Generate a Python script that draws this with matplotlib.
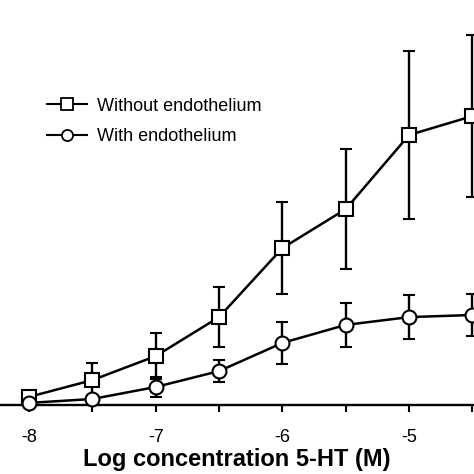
import numpy as np
import matplotlib.pyplot as plt
from matplotlib.lines import Line2D

plt.rcParams['font.family'] = ['Liberation Sans', 'DejaVu Sans']

# log concentration of 5-HT (M)
log_conc = [-8, -7.5, -7, -6.5, -6, -5.5, -5, -4.5]

# contraction (arbitrary units)
without_endo = [2.7, 8.3, 16.3, 29.3, 52.3, 65.3, 90.0, 96.3]
without_err = [0.0, 5.7, 7.7, 10.0, 15.3, 20.0, 28.0, 27.0]
with_endo = [0.7, 2.0, 6.0, 11.3, 20.7, 26.7, 29.3, 30.0]
with_err = [0.0, 0.8, 3.3, 3.7, 7.0, 7.3, 7.3, 7.0]

fig = plt.figure(figsize=(4.74, 4.74), dpi=100)
ax = fig.add_axes([0, 1 - 405 / 474, 1, 405 / 474])

ax.errorbar(log_conc, without_endo, yerr=without_err, color='black', lw=1.8,
            marker='s', markersize=10, mfc='white', mec='black', mew=1.5,
            capsize=4, capthick=1.7, elinewidth=1.7, clip_on=False, zorder=3)
ax.errorbar(log_conc, with_endo, yerr=with_err, color='black', lw=1.8,
            marker='o', markersize=10, mfc='white', mec='black', mew=1.5,
            capsize=4, capthick=1.7, elinewidth=1.7, clip_on=False, zorder=4)

ax.set_xlim(-8 - 29 / 126.7, -8 + 445 / 126.7)
ax.set_ylim(0, 135)

for s in ['top', 'right', 'left']:
    ax.spines[s].set_visible(False)
ax.spines['bottom'].set_linewidth(1.7)
ax.set_yticks([])

ax.set_xticks([-8, -7, -6, -5])
ax.set_xticklabels(['-8', '-7', '-6', '-5'], fontsize=13)
ax.set_xticks(log_conc, minor=True)
ax.tick_params(axis='x', which='both', direction='out', length=5, width=1.5, pad=12)

ax.set_xlabel('Log concentration 5-HT (M)', fontsize=17, fontweight='bold', labelpad=2)

handles = [
    Line2D([], [], color='black', lw=1.5, marker='s', markersize=8,
           mfc='white', mec='black', mew=1.3),
    Line2D([], [], color='black', lw=1.5, marker='o', markersize=8,
           mfc='white', mec='black', mew=1.3),
]
fig.legend(handles, ['Without endothelium', 'With endothelium'],
           loc='upper left', bbox_to_anchor=(0.065, 0.828), frameon=False,
           fontsize=13, handlelength=2.2, handletextpad=0.55, labelspacing=0.75)

fig.savefig('out.png', dpi=100)
